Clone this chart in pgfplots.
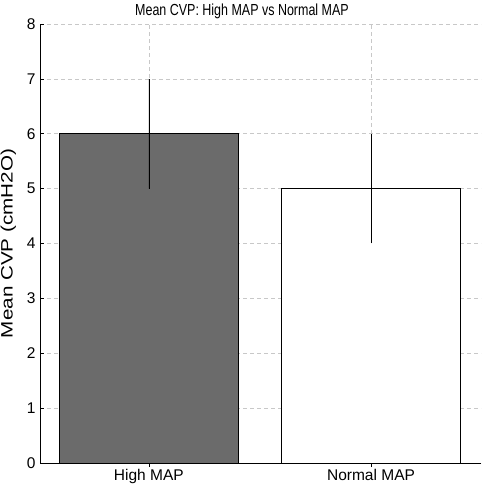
\documentclass[border=0pt]{standalone}
\usepackage{pgfplots}
\pgfplotsset{compat=1.18}
\usetikzlibrary{calc}
\usepackage{fontspec}
\setmainfont{Liberation Sans}
\definecolor{bardark}{HTML}{6B6B6B}
\definecolor{gridgray}{HTML}{C8C8C8}
\begin{document}
\begin{tikzpicture}
\begin{axis}[
  scale only axis,
  width=441pt, height=439pt,
  font=\fontsize{15.5}{18}\selectfont,
  /pgf/number format/assume math mode=true,
  xmin=0.51, xmax=2.495,
  ymin=0, ymax=8,
  ytick={0,1,...,8},
  xtick={1,2},
  xticklabels={High MAP,Normal MAP},
  axis x line*=bottom,
  axis y line*=left,
  tick align=inside,
  major tick length=4pt,
  tick style={black, line width=0.6pt},
  axis line style={black, line width=0.7pt},
  grid=major,
  major grid style={gridgray, dash pattern=on 4pt off 3pt, line width=0.6pt},
  yticklabel style={xshift=-1pt},
  xticklabel style={yshift=1pt},
  ylabel={\scalebox{1.25}[1]{\fontsize{16.5}{18}\selectfont Mean CVP (cmH2O)}},
  ylabel style={at={(axis description cs:-0.054,0.5)}, anchor=south, inner sep=0pt},
  title={\scalebox{0.78}[1]{\fontsize{16}{18}\selectfont Mean CVP: High MAP vs Normal MAP}},
  title style={at={(axis description cs:0.458,1)}, anchor=base, yshift=2pt},
  ybar, bar shift=0pt, bar width=0.805,
]
\addplot[fill=bardark, draw=black, line width=0.7pt,
  error bars/.cd, y dir=both, y explicit, error mark=none,
  error bar style={black, line width=0.7pt}]
  coordinates {(1,6) +- (0,1)};
\addplot[fill=white, draw=black, line width=0.7pt,
  error bars/.cd, y dir=both, y explicit, error mark=none,
  error bar style={black, line width=0.7pt}]
  coordinates {(2,5) +- (0,1)};
\end{axis}
\pgfresetboundingbox
\path ($(current axis.south west)+(-40pt,-24pt)$) rectangle ($(current axis.north east)+(3pt,24pt)$);
\end{tikzpicture}
\end{document}
